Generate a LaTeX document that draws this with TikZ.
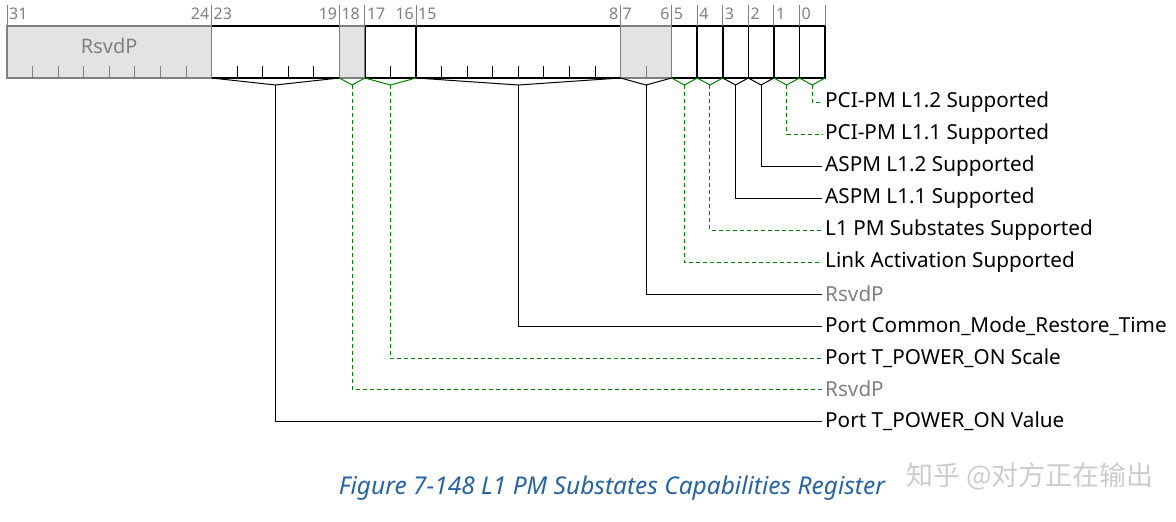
\documentclass[tikz,border=0pt]{standalone}
\usepackage{fontspec}
\setmainfont{Noto Sans}
\newfontfamily\cjk{Noto Sans CJK SC}
\begin{document}
\begin{tikzpicture}[x=1pt,y=-1pt,
  lbl/.style={anchor=west,inner sep=0pt,font=\fontsize{20.7}{20.7}\selectfont},
  num/.style={inner sep=0pt,font=\fontsize{16}{16}\selectfont,text=gray},
  blk/.style={black,line width=1pt},
  grn/.style={green!50!black,line width=1pt},
  gdash/.style={grn,dash pattern=on 4pt off 3pt}]
\useasboundingbox (0,0) rectangle (1176,522);
\def\W{25.5625}
% gray fields
\foreach \a/\b in {32/24,19/18,8/6}{
  \fill[gray!22] ({825-\a*\W},26) rectangle ({825-\b*\W},78);
}
\node[font=\fontsize{20}{20}\selectfont,text=gray] (rsv) at ({825-28*\W},46) {RsvdP};
% white field borders
\foreach \a/\b in {24/19,18/16,16/8,6/5,5/4,4/3,3/2,2/1,1/0}{
  \draw[line width=1.6pt] ({825-\a*\W},26) rectangle ({825-\b*\W},78);
}
\foreach \a/\b in {32/24,19/18,8/6}{
  \draw[gray,line width=1.2pt] ({825-\a*\W},26) rectangle ({825-\b*\W},78);
}
% inner ticks
\foreach \k in {31,...,25}{\draw[gray,line width=0.8pt] ({825-\k*\W},66) -- ({825-\k*\W},78);}
\draw[gray,line width=0.8pt] ({825-7*\W},66) -- ({825-7*\W},78);
\foreach \k in {23,...,20,17,15,14,...,9}{\draw[line width=0.8pt] ({825-\k*\W},66) -- ({825-\k*\W},78);}
% top boundary ticks
\foreach \k in {32,24,19,18,16,8,6,5,4,3,2,1,0}{\draw[gray,line width=0.8pt] ({825-\k*\W},5) -- ({825-\k*\W},26);}
% bit numbers
\foreach \k in {31,23,18,17,15,7,5,4,3,2,1,0}{\node[num,anchor=west] at ({825-(\k+1)*\W+2},14) {\k};}
\foreach \k in {24,19,16,8,6}{\node[num,anchor=east] at ({825-\k*\W-2},14) {\k};}
% labels
\def\LX{825}
\node[lbl] (l0) at (\LX,102) {PCI-PM L1.2 Supported};
\node[lbl] (l1) at (\LX,134) {PCI-PM L1.1 Supported};
\node[lbl] (l2) at (\LX,166) {ASPM L1.2 Supported};
\node[lbl] (l3) at (\LX,198) {ASPM L1.1 Supported};
\node[lbl] (l4) at (\LX,230) {L1 PM Substates Supported};
\node[lbl] (l5) at (\LX,262) {Link Activation Supported};
\node[lbl,text=gray] (l6) at (\LX,294) {RsvdP};
\node[lbl] (l7) at (\LX,326) {Port Common\_Mode\_Restore\_Time};
\node[lbl] (l8) at (\LX,358) {Port T\_POWER\_ON Scale};
\node[lbl,text=gray] (l9) at (\LX,389) {RsvdP};
\node[lbl] (l10) at (\LX,421) {Port T\_POWER\_ON Value};
% brackets
\foreach \a/\b/\n/\s/\d/\y in {1/0/l0/grn/gdash/102,2/1/l1/grn/gdash/134,3/2/l2/blk/blk/166,4/3/l3/blk/blk/198,5/4/l4/grn/gdash/230,6/5/l5/grn/gdash/262,8/6/l6/blk/blk/294,16/8/l7/blk/blk/326,18/16/l8/grn/gdash/358,19/18/l9/grn/gdash/389,24/19/l10/blk/blk/421}{
  \coordinate (t\n) at ({825-(\a+\b)/2*\W},85);
  \draw[\s] ({825-\a*\W},78) -- (t\n) -- ({825-\b*\W},78);
  \draw[\d] (t\n) |- ([xshift=-3pt]\n.west);
}
\node[font=\itshape\fontsize{24.5}{24.5}\selectfont,text={rgb,255:red,40;green,100;blue,160}] (cap) at (612,488) {Figure 7-148 L1 PM Substates Capabilities Register};
\node[font=\cjk\fontsize{27}{27}\selectfont,text=gray!40] (wm) at (1030,476) {知乎 @对方正在输出};
\end{tikzpicture}
\end{document}
